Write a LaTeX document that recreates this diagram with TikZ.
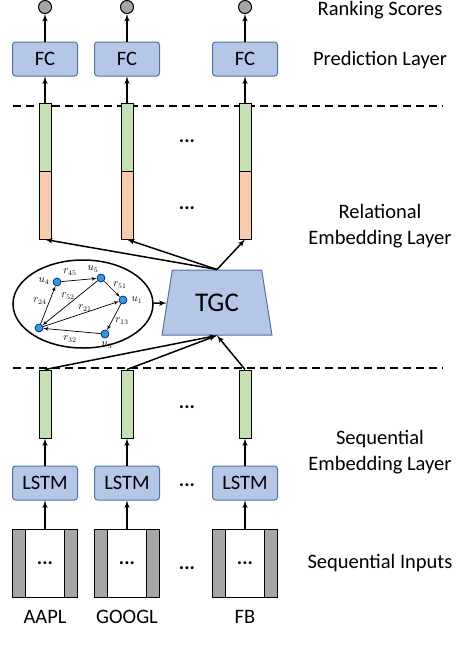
\documentclass[tikz,border=0pt]{standalone}
\usepackage{amsmath,amssymb}
\usepackage{xcolor}
\usepackage{fontspec}
\setmainfont{Carlito}
\usepackage{tikz}
\usetikzlibrary{shapes, arrows}

\definecolor{fcblue}{RGB}{180,199,231}
\definecolor{fcline}{RGB}{84,112,164}
\definecolor{embgreen}{RGB}{197,224,180}
\definecolor{relorange}{RGB}{248,203,173}
\definecolor{seqgray}{RGB}{168,165,165}
\definecolor{nodeblue}{RGB}{46,155,214}

\tikzset{
  layer/.style={rectangle, draw=fcline, fill=fcblue, rounded corners=3, line width=1, minimum width=65, minimum height=34, font=\fontsize{20.5}{24}\selectfont},
  score/.style={circle, draw, fill=seqgray, line width=1, minimum size=13, inner sep=0},
  greenbar/.style={rectangle, draw, fill=embgreen, line width=1, minimum width=12, minimum height=68, inner sep=0},
  orangebar/.style={rectangle, draw, fill=relorange, line width=1, minimum width=12, minimum height=68, inner sep=0},
  inbox/.style={rectangle, draw, fill=white, line width=1, minimum width=65, minimum height=68, font=\fontsize{20}{24}\selectfont\bfseries},
  strip/.style={rectangle, draw, fill=seqgray, line width=1, minimum width=13, minimum height=68, inner sep=0},
  tgcbox/.style={trapezium, trapezium angle=76.6, trapezium stretches=true, draw=fcline, fill=fcblue, line width=1, minimum width=110, minimum height=65, font=\fontsize{27}{30}\selectfont},
  gnode/.style={circle, draw=blue!50!black, fill=nodeblue, line width=0.6, minimum size=8, inner sep=0},
  glabel/.style={inner sep=0, font=\fontsize{10.5}{12}\selectfont},
  caption/.style={align=center, font=\fontsize{20.5}{26}\selectfont},
  dots/.style={font=\fontsize{20}{24}\selectfont\bfseries},
  divider/.style={dash pattern=on 8pt off 5pt, line width=1.5},
  flow/.style={draw, line width=1.5, -latex'},
  gedge/.style={draw, line width=0.7, -latex'}
}

\begin{document}
\begin{tikzpicture}[x=1pt, y=-1pt]
        \useasboundingbox (0,0) rectangle (474,645);

        % Ranking scores and prediction layer
        \node [score] (score1) at (45,7) {};
        \node [score] (score2) at (127,7) {};
        \node [score] (score3) at (245,7) {};
        \node [layer] (fc1) at (45,59) {FC};
        \node [layer] (fc2) at (127,59) {FC};
        \node [layer] (fc3) at (245,59) {FC};

        % Relational embeddings
        \draw [divider] (13,106) -- (443,106);
        \node [greenbar] (top1) at (45,137) {};
        \node [greenbar] (top2) at (127,137) {};
        \node [greenbar] (top3) at (245,137) {};
        \node [orangebar] (rel1) at (45,205) {};
        \node [orangebar] (rel2) at (127,205) {};
        \node [orangebar] (rel3) at (245,205) {};
        \node [dots] (topdots) at (187,141) {...};
        \node [dots] (reldots) at (187,208) {...};

        % Relation graph
        \node [ellipse, draw, line width=1.5, minimum width=140, minimum height=88] (graph) at (83,304) {};
        \node [gnode] (u4) at (57,282) {};
        \node [gnode] (u5) at (101,278) {};
        \node [gnode] (u1) at (123,300) {};
        \node [gnode] (u3) at (105,334) {};
        \node [gnode] (u2) at (39,328) {};
        \path [gedge] (u4) -- (u5);
        \path [gedge] (u5) -- (u1);
        \path [gedge] (u1) -- (u3);
        \path [gedge] (u3) -- (u2);
        \path [gedge] (u2) -- (u4);
        \path [gedge] (u5) -- (u2);
        \path [gedge] (u2) -- (u1);
        \node [glabel] (lu4) at (44,281) {$u_4$};
        \node [glabel] (lu5) at (93,269) {$u_5$};
        \node [glabel] (lu1) at (137,300) {$u_1$};
        \node [glabel] (lu3) at (107,345) {$u_3$};
        \node [glabel] (r45) at (70,272) {$r_{45}$};
        \node [glabel] (r51) at (120,285) {$r_{51}$};
        \node [glabel] (r52) at (68,296) {$r_{52}$};
        \node [glabel] (r21) at (85,308) {$r_{21}$};
        \node [glabel] (r24) at (40,301) {$r_{24}$};
        \node [glabel] (r13) at (122,321) {$r_{13}$};
        \node [glabel] (r32) at (70,339) {$r_{32}$};

        % TGC
        \node [tgcbox] (tgc) at (217,302.5) {TGC};

        % Sequential embeddings
        \draw [divider] (13,368) -- (443,368);
        \node [greenbar] (seq1) at (45,404) {};
        \node [greenbar] (seq2) at (127,404) {};
        \node [greenbar] (seq3) at (245,404) {};
        \node [dots] (seqdots) at (187,407) {...};
        \node [layer] (lstm1) at (45,483) {LSTM};
        \node [layer] (lstm2) at (127,483) {LSTM};
        \node [layer] (lstm3) at (245,483) {LSTM};
        \node [dots] (lstmdots) at (187,485) {...};

        % Sequential inputs
        \node [inbox] (in1) at (45,563) {...};
        \node [inbox] (in2) at (127,563) {...};
        \node [inbox] (in3) at (245,563) {...};
        \node [strip, anchor=west] (in1l) at (in1.west) {};
        \node [strip, anchor=east] (in1r) at (in1.east) {};
        \node [strip, anchor=west] (in2l) at (in2.west) {};
        \node [strip, anchor=east] (in2r) at (in2.east) {};
        \node [strip, anchor=west] (in3l) at (in3.west) {};
        \node [strip, anchor=east] (in3r) at (in3.east) {};
        \node [dots] (indots) at (187,568) {...};
        \node [caption] (aapl) at (45,617) {AAPL};
        \node [caption] (googl) at (127,617) {GOOGL};
        \node [caption] (fb) at (245,617) {FB};

        % Layer names
        \node [caption] (rankcap) at (380,10) {Ranking Scores};
        \node [caption] (predcap) at (380,60) {Prediction Layer};
        \node [caption] (relcap) at (380,226.5) {Relational\\Embedding Layer};
        \node [caption] (seqcap) at (380,452.5) {Sequential\\Embedding Layer};
        \node [caption] (incap) at (380,563) {Sequential Inputs};

        % Arrows
        \path [flow] (fc1) -- (score1);
        \path [flow] (fc2) -- (score2);
        \path [flow] (fc3) -- (score3);
        \path [flow] (top1) -- (fc1);
        \path [flow] (top2) -- (fc2);
        \path [flow] (top3) -- (fc3);
        \path [flow] (tgc.north) -- (rel1.south);
        \path [flow] (tgc.north) -- (rel2.south);
        \path [flow] (tgc.north) -- (rel3.south);
        \path [flow] (graph) -- (tgc);
        \path [flow] (seq1.north) -- (tgc.south);
        \path [flow] (seq2.north) -- (tgc.south);
        \path [flow] (seq3.north) -- (tgc.south);
        \path [flow] (lstm1) -- (seq1);
        \path [flow] (lstm2) -- (seq2);
        \path [flow] (lstm3) -- (seq3);
        \path [flow] (in1) -- (lstm1);
        \path [flow] (in2) -- (lstm2);
        \path [flow] (in3) -- (lstm3);
    \end{tikzpicture}
\end{document}
